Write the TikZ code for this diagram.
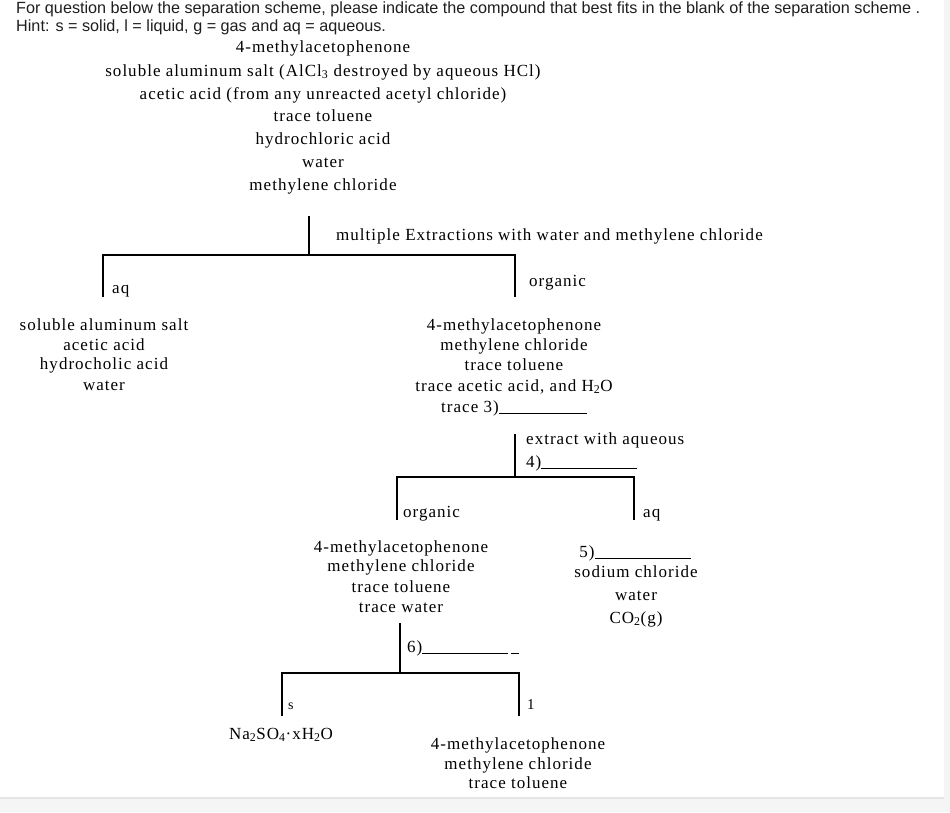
\documentclass[tikz,border=0pt]{standalone}
\usepackage{fontspec}
\setmainfont{Liberation Serif}[LetterSpace=6]
\newfontfamily\hdrfont{Liberation Sans}
\newcommand{\blank}[1]{\rule[-1.5pt]{#1}{0.7pt}}
\begin{document}
\begin{tikzpicture}[x=1pt,y=-1pt,
  hdr/.style={anchor=base west,inner sep=0,text=black!88,font=\hdrfont\fontsize{16.2}{18}\selectfont},
  txt/.style={anchor=base,inner sep=0,font=\fontsize{17}{19}\selectfont},
  lab/.style={anchor=base west,inner sep=0,font=\fontsize{17}{19}\selectfont},
  bar/.style={line width=2pt},
  hair/.style={line width=1pt}]
\useasboundingbox (0,0) rectangle (950,812);
\fill[white] (0,0) rectangle (950,812);
\fill[black!4] (0,798) rectangle (950,812);
\fill[black!4] (944,0) rectangle (950,798);
\draw[black!10,line width=1.2pt] (0,798) -- (944,798);
% header
\node[hdr] (h1) at (16,13) {For question below the separation scheme, please indicate the compound that best fits in the blank of the separation scheme .};
\node[hdr] (h2) at (16,31) {Hint: s = solid, l = liquid, g = gas and aq = aqueous.};
% top block
\node[txt] (a1) at (323,52) {4-methylacetophenone};
\node[txt] (a2) at (323,76) {soluble aluminum salt (AlCl\textsubscript{3} destroyed by aqueous HCl)};
\node[txt] (a3) at (323,99) {acetic acid (from any unreacted acetyl chloride)};
\node[txt] (a4) at (323,121) {trace toluene};
\node[txt] (a5) at (323,144) {hydrochloric acid};
\node[txt] (a6) at (323,167) {water};
\node[txt] (a7) at (323,190) {methylene chloride};
% first split
\coordinate (s1top) at (309,216);
\coordinate (s1) at (309,255);
\coordinate (s1l) at (103,255);
\coordinate (s1r) at (515,255);
\coordinate (s1lb) at (103,297);
\coordinate (s1rm) at (515,277);
\coordinate (s1rb) at (515,297);
\draw[bar] (s1top) -- (s1);
\draw[bar] (s1lb) -- (s1l) -- (s1r) -- (s1rm);
\draw[bar] (s1rm) -- (s1rb);
\node[lab] (ex1) at (336,240) {multiple Extractions with water and methylene chloride};
\node[lab] (aq1) at (112,293) {aq};
\node[lab] (or1) at (529,286) {organic};
% left aqueous block
\node[txt] (b1) at (104,330) {soluble aluminum salt};
\node[txt] (b2) at (104,350) {acetic acid};
\node[txt] (b3) at (104,369) {hydrocholic acid};
\node[txt] (b4) at (104,390) {water};
% right organic block
\node[txt] (c1) at (514,330) {4-methylacetophenone};
\node[txt] (c2) at (514,350) {methylene chloride};
\node[txt] (c3) at (514,370) {trace toluene};
\node[txt] (c4) at (514,391) {trace acetic acid, and H\textsubscript{2}O};
\node[txt] (c5) at (514,412) {trace 3)\blank{88pt}};
% second split
\coordinate (s2top) at (515,434);
\coordinate (s2) at (515,477);
\coordinate (s2l) at (397,477);
\coordinate (s2r) at (634,477);
\coordinate (s2lb) at (397,520);
\coordinate (s2rb) at (634,520);
\draw[bar] (s2top) -- (s2);
\draw[bar] (s2lb) -- (s2l) -- (s2r) -- (s2rb);
\node[lab] (ex2) at (526,444) {extract with aqueous};
\node[lab] (ex2b) at (526,467) {4)\blank{96pt}};
\node[lab] (or2) at (403,517) {organic};
\node[lab] (aq2) at (643,517) {aq};
% organic block 2
\node[txt] (d1) at (401,552) {4-methylacetophenone};
\node[txt] (d2) at (401,571) {methylene chloride};
\node[txt] (d3) at (401,592) {trace toluene};
\node[txt] (d4) at (401,612) {trace water};
% aqueous block 2
\node[txt] (e1) at (635,557) {5)\blank{96pt}};
\node[txt] (e2) at (636,577) {sodium chloride};
\node[txt] (e3) at (636,600) {water};
\node[txt] (e4) at (636,623) {CO\textsubscript{2}(g)};
% third split
\coordinate (s3top) at (400,623);
\coordinate (s3) at (400,673);
\coordinate (s3l) at (282,673);
\coordinate (s3r) at (519,673);
\coordinate (s3lb) at (282,716);
\coordinate (s3rb) at (519,716);
\draw[bar] (s3top) -- (s3);
\draw[bar] (s3lb) -- (s3l) -- (s3r) -- (s3rb);
\node[lab] (dr) at (407,652) {6)\blank{86pt}\hspace{3pt}\blank{8pt}};
\node[lab,font=\fontsize{14}{16}\selectfont] (sl) at (288,709) {s};
\node[lab,font=\fontsize{15}{17}\selectfont] (li) at (527,709) {1};
% solid
\node[txt] (f1) at (281,739) {Na\textsubscript{2}SO\textsubscript{4}·xH\textsubscript{2}O};
% liquid
\node[txt] (g1) at (518,749) {4-methylacetophenone};
\node[txt] (g2) at (518,769) {methylene chloride};
\node[txt] (g3) at (518,788) {trace toluene};
\end{tikzpicture}
\end{document}
